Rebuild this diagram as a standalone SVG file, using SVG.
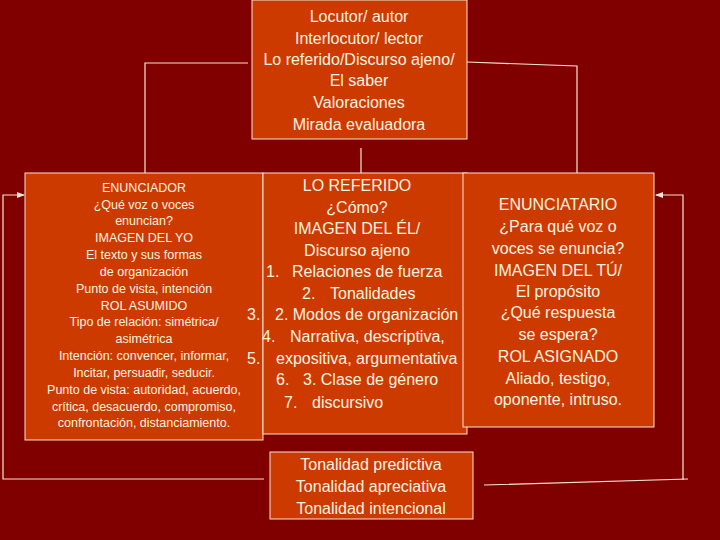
<svg xmlns="http://www.w3.org/2000/svg" width="720" height="540" viewBox="0 0 720 540">
<style>
.box{fill:#cc3a00;stroke:#f4e6d6;stroke-width:1}
.t{font-family:"Liberation Sans",Arial,sans-serif;fill:#fff3e0;font-size:16px}
.c{text-anchor:middle}
.s{font-size:12.5px}
.ln{stroke:#f4e6d6;stroke-width:1.2;fill:none}
</style>
<defs>
<marker id="ah" markerWidth="8" markerHeight="8" refX="7" refY="4" orient="auto" markerUnits="userSpaceOnUse"><path d="M0,1 L8,4 L0,7 z" fill="#f4e6d6"/></marker>
<clipPath id="mc"><rect x="0" y="170" width="463" height="270"/></clipPath>
</defs>
<rect width="720" height="540" fill="#800000"/>
<g id="connectors">
<path class="ln" d="M145,173 V63 H248"/>
<path class="ln" d="M467,62 L577,66 V173"/>
<path class="ln" d="M361,148 V173"/>
<path class="ln" d="M264,479 H3 V195 H24" marker-end="url(#ah)"/>
<path class="ln" d="M484,485 L688,479 M683,480 V195 H656" marker-end="url(#ah)"/>
</g>
<g id="top">
<rect class="box" x="252" y="0" width="215" height="139"/>
<g class="t c"><text x="359" y="22">Locutor/ autor</text><text x="359" y="44">Interlocutor/ lector</text><text x="359" y="65">Lo referido/Discurso ajeno/</text><text x="359" y="86">El saber</text><text x="359" y="108">Valoraciones</text><text x="359" y="130">Mirada evaluadora</text></g>
</g>
<g id="enunciador">
<rect class="box" x="25" y="173" width="238" height="267"/>
<g class="t c s"><text x="144" y="192">ENUNCIADOR</text><text x="144" y="209">¿Qué voz o voces</text><text x="144" y="225">enuncian?</text><text x="144" y="242">IMAGEN DEL YO</text><text x="144" y="259">El texto y sus formas</text><text x="144" y="276">de organización</text><text x="144" y="293">Punto de vista, intención</text><text x="144" y="310">ROL ASUMIDO</text><text x="144" y="326">Tipo de relación: simétrica/</text><text x="144" y="343">asimétrica</text><text x="144" y="360">Intención: convencer, informar,</text><text x="144" y="377">Incitar, persuadir, seducir.</text><text x="144" y="394">Punto de vista: autoridad, acuerdo,</text><text x="144" y="411">crítica, desacuerdo, compromiso,</text><text x="144" y="427">confrontación, distanciamiento.</text></g>
</g>
<g id="referido">
<rect class="box" x="263" y="173" width="204" height="261"/>
<g class="t" clip-path="url(#mc)">
<text class="c" x="357" y="191">LO REFERIDO</text><text class="c" x="357" y="213">¿Cómo?</text><text class="c" x="357" y="234">IMAGEN DEL ÉL/</text><text class="c" x="357" y="256">Discurso ajeno</text>
<text x="266" y="277">1.</text><text x="292" y="277">Relaciones de fuerza</text>
<text x="302" y="299">2.</text><text x="330" y="299">Tonalidades</text>
<text x="247" y="320">3.</text><text x="275" y="320">2. Modos de organización</text>
<text x="262" y="342">4.</text><text x="290" y="342">Narrativa, descriptiva,</text>
<text x="247" y="364">5.</text><text x="276" y="364">expositiva, argumentativa</text>
<text x="276" y="385">6.</text><text x="303" y="385">3. Clase de género</text>
<text x="284" y="408">7.</text><text x="312" y="408">discursivo</text>
</g>
</g>
<g id="enunciatario">
<rect class="box" x="463" y="173" width="191" height="254"/>
<g class="t c"><text x="558" y="210">ENUNCIATARIO</text><text x="558" y="232">¿Para qué voz o</text><text x="558" y="254">voces se enuncia?</text><text x="558" y="276">IMAGEN DEL TÚ/</text><text x="558" y="297">El propósito</text><text x="558" y="318">¿Qué respuesta</text><text x="558" y="340">se espera?</text><text x="558" y="362">ROL ASIGNADO</text><text x="558" y="384">Aliado, testigo,</text><text x="558" y="405">oponente, intruso.</text></g>
</g>
<g id="tonalidades">
<rect class="box" x="270" y="452" width="203" height="67"/>
<g class="t c"><text x="371" y="470">Tonalidad predictiva</text><text x="371" y="492">Tonalidad apreciativa</text><text x="371" y="514">Tonalidad intencional</text></g>
</g>
</svg>
